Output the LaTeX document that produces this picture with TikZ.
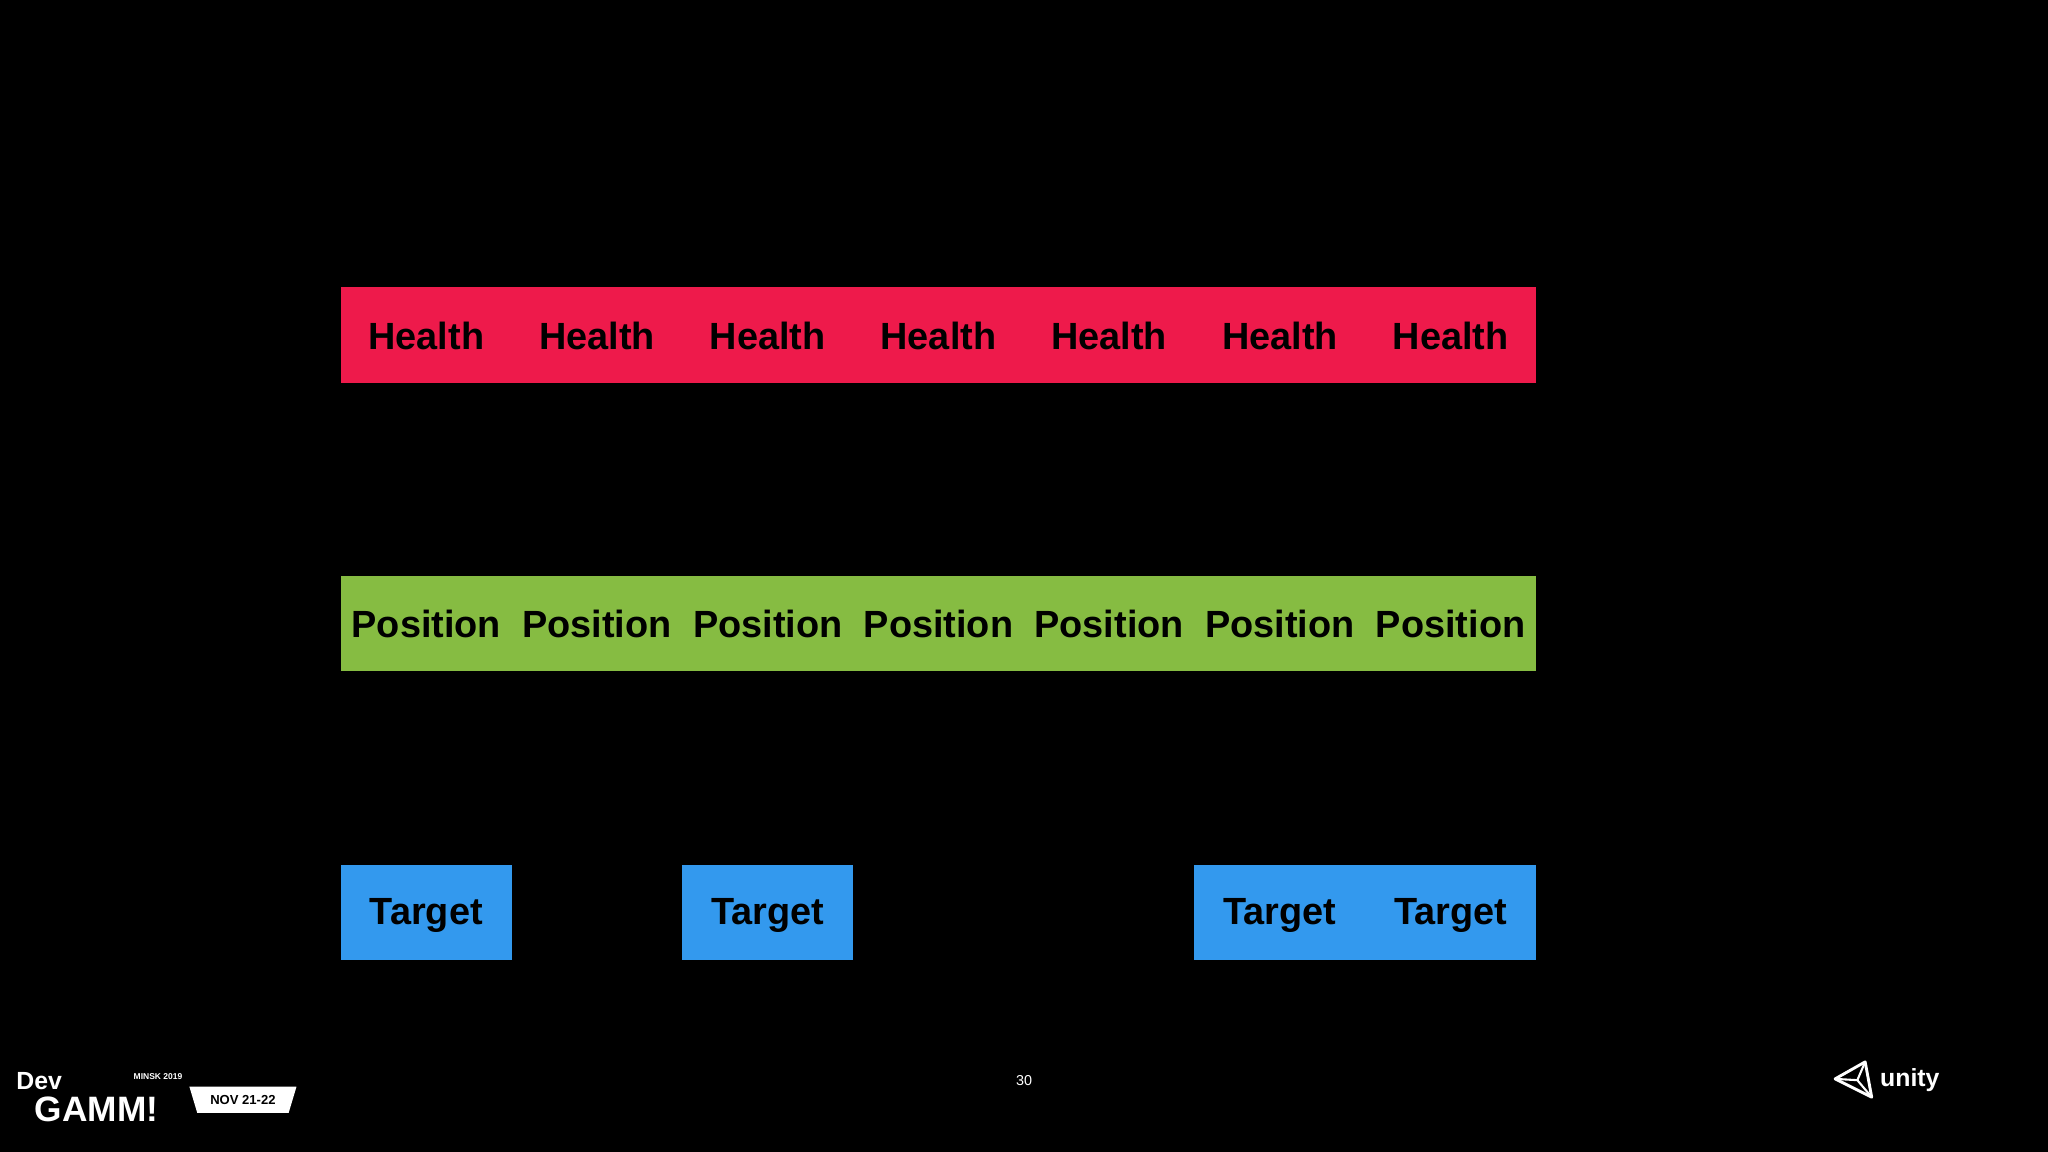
\documentclass[tikz,border=0pt]{standalone}
\usepackage{fontspec}
\setmainfont{Liberation Sans}
\begin{document}
\begin{tikzpicture}[x=1pt,y=-1pt,
  cell/.style={inner sep=0pt,font=\fontsize{29}{30}\selectfont\bfseries,text=black}]
\useasboundingbox[fill=black] (0,0) rectangle (1568,882);
\definecolor{hred}{HTML}{EE1A4B}
\definecolor{pgreen}{HTML}{86BC42}
\definecolor{tblue}{HTML}{3399EE}
\fill[hred] (261,220) rectangle (1176,293);
\fill[pgreen] (261,441) rectangle (1176,514);
\fill[tblue] (261,662) rectangle (392,735);
\fill[tblue] (522,662) rectangle (653,735);
\fill[tblue] (914,662) rectangle (1176,735);
\foreach \i/\x in {1/326.4,2/457.1,3/587.8,4/718.5,5/849.2,6/979.9,7/1110.6}{
  \node[cell] (h\i) at (\x,257) {Health};
  \node[cell] (p\i) at (\x,478) {Position};
}
\node[cell] (t1) at (326.4,701) {Target};
\node[cell] (t3) at (587.8,701) {Target};
\node[cell] (t6) at (979.9,701) {Target};
\node[cell] (t7) at (1110.6,701) {Target};
% page number
\node[text=white,font=\fontsize{11}{12}\selectfont] (pg) at (784,827) {30};
% DevGAMM logo
\node[text=white,inner sep=0pt,font=\fontsize{19}{20}\selectfont\bfseries] (dev) at (30,828) {Dev};
\node[text=white,inner sep=0pt,font=\fontsize{27}{28}\selectfont\bfseries] (gamm) at (74,849) {GAMM!};
\node[text=white,font=\fontsize{6.5}{7}\selectfont\bfseries] (minsk) at (121,824) {MINSK 2019};
\fill[white] (145,832) -- (227,832) -- (221,852) -- (151,852) -- cycle;
\node[text=black,font=\fontsize{10}{11}\selectfont\bfseries] (nov) at (186,842) {NOV 21-22};
% unity logo
\draw[white,line width=2.2pt,line join=round] (1405,826) -- (1428,813) -- (1433,840) -- cycle;
\draw[white,line width=1.6pt] (1405,826) -- (1422,827) -- (1428,813) (1422,827) -- (1433,840);
\node[text=white,font=\fontsize{19}{20}\selectfont\bfseries,anchor=west] (unity) at (1436,827) {unity};
\end{tikzpicture}
\end{document}
